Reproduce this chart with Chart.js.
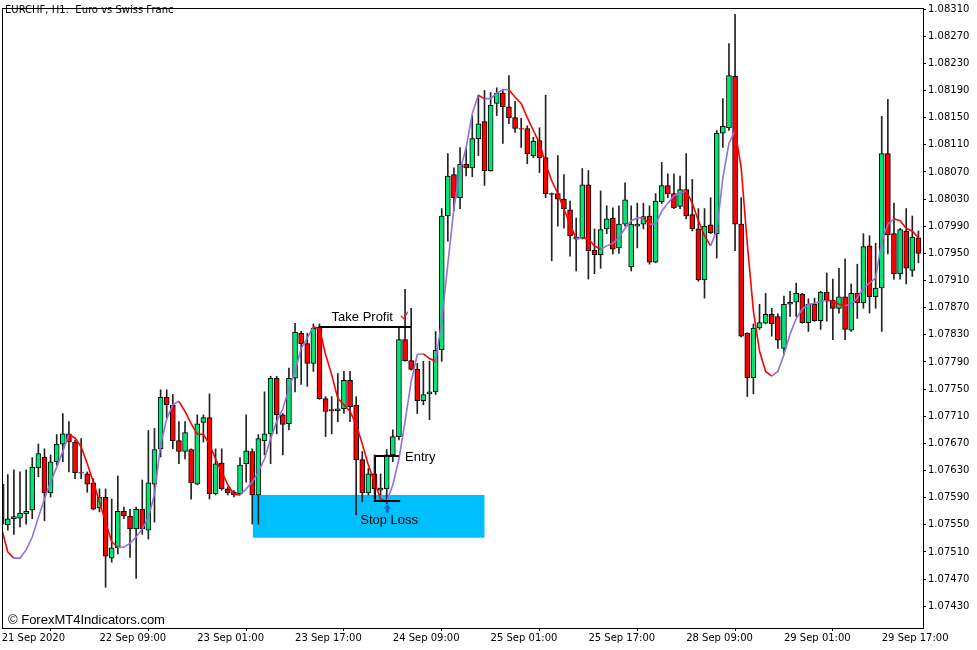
<!DOCTYPE html>
<html><head><meta charset="utf-8">
<script src="https://cdn.jsdelivr.net/npm/chart.js@4.4.1/dist/chart.umd.min.js"></script>
<style>html,body{margin:0;padding:0;background:#fff;}#wrap{width:977px;height:650px;position:relative;}</style>
</head><body><div id="wrap"><canvas id="c" width="977" height="650"></canvas></div>
<script>
const opens=[1.07610,1.07550,1.07559,1.07560,1.07566,1.07572,1.07634,1.07650,1.07597,1.07643,1.07669,1.07684,1.07672,1.07627,1.07625,1.07612,1.07575,1.07591,1.07501,1.07516,1.07570,1.07563,1.07544,1.07573,1.07542,1.07610,1.07662,1.07738,1.07726,1.07674,1.07658,1.07661,1.07610,1.07701,1.07708,1.07596,1.07641,1.07603,1.07598,1.07596,1.07640,1.07658,1.07594,1.07674,1.07684,1.07766,1.07712,1.07699,1.07766,1.07832,1.07817,1.07788,1.07841,1.07736,1.07720,1.07718,1.07721,1.07763,1.07726,1.07646,1.07597,1.07625,1.07601,1.07603,1.07653,1.07680,1.07823,1.07792,1.07779,1.07733,1.07743,1.07746,1.07808,1.08005,1.08066,1.08032,1.08081,1.08076,1.08119,1.08144,1.08072,1.08171,1.08186,1.08166,1.08150,1.08134,1.08134,1.08094,1.08116,1.08091,1.08038,1.08038,1.08030,1.08014,1.07971,1.07973,1.08051,1.07955,1.07948,1.07986,1.08002,1.07958,1.07993,1.07930,1.07990,1.07993,1.08005,1.07937,1.08026,1.08050,1.08038,1.08019,1.08044,1.08007,1.07986,1.07911,1.07992,1.07979,1.08127,1.08135,1.08211,1.07993,1.07832,1.07767,1.07840,1.07847,1.07860,1.07857,1.07810,1.07875,1.07878,1.07890,1.07848,1.07875,1.07851,1.07893,1.07881,1.07869,1.07886,1.07837,1.07891,1.07877,1.07961,1.07886,1.07899,1.08097,1.07979,1.07920,1.07983,1.07925,1.07973];
const highs=[1.07616,1.07624,1.07631,1.07628,1.07631,1.07649,1.07669,1.07662,1.07653,1.07683,1.07714,1.07702,1.07675,1.07677,1.07628,1.07618,1.07603,1.07603,1.07588,1.07622,1.07576,1.07573,1.07576,1.07616,1.07689,1.07692,1.07749,1.07749,1.07742,1.07702,1.07702,1.07662,1.07712,1.07712,1.07743,1.07662,1.07662,1.07606,1.07601,1.07649,1.07712,1.07662,1.07683,1.07746,1.07769,1.07769,1.07714,1.07781,1.07847,1.07835,1.07832,1.07846,1.07846,1.07739,1.07739,1.07773,1.07776,1.07776,1.07739,1.07658,1.07633,1.07653,1.07625,1.07661,1.07690,1.07840,1.07897,1.07869,1.07788,1.07791,1.07791,1.07835,1.08016,1.08097,1.08076,1.08106,1.08106,1.08153,1.08183,1.08190,1.08187,1.08194,1.08191,1.08212,1.08174,1.08149,1.08138,1.08121,1.08135,1.08183,1.08039,1.08094,1.08066,1.08027,1.08002,1.08075,1.08072,1.07986,1.08042,1.08020,1.08017,1.08020,1.08054,1.08020,1.08024,1.08024,1.08020,1.08038,1.08084,1.08067,1.08067,1.08064,1.08097,1.08059,1.08016,1.08016,1.08032,1.08131,1.08178,1.08259,1.08302,1.08032,1.07833,1.07846,1.07875,1.07891,1.07869,1.07861,1.07887,1.07894,1.07906,1.07891,1.07883,1.07884,1.07894,1.07921,1.07912,1.07928,1.07942,1.07905,1.07934,1.07979,1.07976,1.07965,1.08152,1.08177,1.08024,1.07987,1.08016,1.08005,1.07983];
const lows=[1.07539,1.07542,1.07536,1.07547,1.07551,1.07559,1.07621,1.07556,1.07591,1.07638,1.07643,1.07628,1.07618,1.07618,1.07598,1.07572,1.07569,1.07458,1.07495,1.07507,1.07559,1.07502,1.07471,1.07536,1.07529,1.07554,1.07650,1.07707,1.07662,1.07640,1.07647,1.07588,1.07609,1.07672,1.07588,1.07594,1.07601,1.07594,1.07591,1.07594,1.07613,1.07551,1.07551,1.07653,1.07640,1.07684,1.07653,1.07690,1.07746,1.07757,1.07754,1.07776,1.07735,1.07680,1.07684,1.07702,1.07714,1.07702,1.07565,1.07584,1.07594,1.07588,1.07594,1.07581,1.07643,1.07675,1.07791,1.07778,1.07714,1.07727,1.07705,1.07742,1.07791,1.07968,1.08013,1.08016,1.08064,1.08063,1.08094,1.08050,1.08071,1.08153,1.08112,1.08141,1.08128,1.08106,1.08082,1.08091,1.08069,1.08032,1.07939,1.07990,1.07987,1.07946,1.07924,1.07971,1.07912,1.07920,1.07928,1.07979,1.07949,1.07950,1.07990,1.07924,1.07958,1.07986,1.07934,1.07936,1.08023,1.08032,1.08016,1.08016,1.08001,1.07983,1.07909,1.07884,1.07979,1.07943,1.08106,1.08131,1.07954,1.07827,1.07739,1.07743,1.07838,1.07846,1.07828,1.07810,1.07801,1.07857,1.07857,1.07847,1.07835,1.07850,1.07838,1.07850,1.07823,1.07862,1.07823,1.07835,1.07854,1.07869,1.07862,1.07869,1.07835,1.07949,1.07912,1.07912,1.07905,1.07916,1.07936];
const closes=[1.07551,1.07559,1.07562,1.07567,1.07570,1.07635,1.07655,1.07597,1.07643,1.07669,1.07684,1.07672,1.07627,1.07626,1.07610,1.07573,1.07591,1.07504,1.07516,1.07570,1.07563,1.07544,1.07573,1.07544,1.07612,1.07661,1.07738,1.07727,1.07674,1.07658,1.07686,1.07612,1.07699,1.07708,1.07596,1.07640,1.07603,1.07597,1.07594,1.07638,1.07659,1.07594,1.07677,1.07684,1.07766,1.07712,1.07698,1.07766,1.07834,1.07817,1.07788,1.07840,1.07736,1.07717,1.07718,1.07721,1.07763,1.07724,1.07646,1.07597,1.07625,1.07603,1.07604,1.07653,1.07680,1.07823,1.07792,1.07779,1.07733,1.07742,1.07746,1.07807,1.08005,1.08064,1.08032,1.08081,1.08076,1.08119,1.08141,1.08072,1.08168,1.08186,1.08166,1.08150,1.08134,1.08133,1.08097,1.08115,1.08091,1.08038,1.08037,1.08030,1.08016,1.07976,1.07974,1.08051,1.07954,1.07948,1.07985,1.08001,1.07956,1.07993,1.08029,1.07993,1.07993,1.08004,1.07937,1.08027,1.08050,1.08038,1.08017,1.08044,1.08005,1.07986,1.07911,1.07990,1.07980,1.08127,1.08137,1.08212,1.07993,1.07828,1.07767,1.07840,1.07848,1.07860,1.07846,1.07822,1.07875,1.07878,1.07891,1.07848,1.07875,1.07851,1.07893,1.07881,1.07869,1.07886,1.07838,1.07891,1.07877,1.07960,1.07886,1.07899,1.08097,1.07977,1.07920,1.07985,1.07928,1.07974,1.07950];
const maLine=[1.07544,1.07510,1.07501,1.07501,1.07513,1.07532,1.07561,1.07588,1.07613,1.07635,1.07658,1.07683,1.07678,1.07665,1.07640,1.07613,1.07584,1.07554,1.07525,1.07517,1.07517,1.07523,1.07532,1.07544,1.07561,1.07595,1.07668,1.07706,1.07727,1.07732,1.07717,1.07699,1.07684,1.07683,1.07669,1.07647,1.07628,1.07609,1.07595,1.07594,1.07603,1.07613,1.07628,1.07647,1.07677,1.07702,1.07721,1.07751,1.07776,1.07810,1.07825,1.07842,1.07839,1.07801,1.07771,1.07736,1.07727,1.07717,1.07698,1.07669,1.07638,1.07613,1.07588,1.07584,1.07609,1.07647,1.07702,1.07761,1.07801,1.07802,1.07795,1.07791,1.07850,1.07934,1.08017,1.08072,1.08106,1.08156,1.08183,1.08178,1.08178,1.08186,1.08191,1.08191,1.08180,1.08171,1.08150,1.08131,1.08112,1.08082,1.08057,1.08038,1.08015,1.07993,1.07971,1.07973,1.07971,1.07961,1.07956,1.07961,1.07965,1.07973,1.07987,1.07998,1.08002,1.08002,1.07993,1.07993,1.08012,1.08024,1.08035,1.08039,1.08042,1.08024,1.07998,1.07976,1.07961,1.07983,1.08061,1.08112,1.08131,1.08076,1.07964,1.07865,1.07806,1.07776,1.07769,1.07776,1.07801,1.07831,1.07854,1.07868,1.07875,1.07876,1.07879,1.07881,1.07879,1.07875,1.07873,1.07875,1.07884,1.07899,1.07906,1.07914,1.07968,1.07993,1.08001,1.07998,1.07987,1.07983,1.07973];
const yTicks=[1.07430,1.07470,1.07510,1.07550,1.07590,1.07630,1.07670,1.07710,1.07750,1.07790,1.07830,1.07870,1.07910,1.07950,1.07990,1.08030,1.08070,1.08110,1.08150,1.08190,1.08230,1.08270,1.08310];
const xTickIdx=[0,16,32,48,64,80,96,112,128,144];
const xTickLabels=['21 Sep 2020','22 Sep 09:00','23 Sep 01:00','23 Sep 17:00','24 Sep 09:00','25 Sep 01:00','25 Sep 17:00','28 Sep 09:00','29 Sep 01:00','29 Sep 17:00'];

const GREEN='#00E676', RED='#FF0000';
const bodies=opens.map((o,i)=>({x:i,y:[o,closes[i]]}));
const wicks=lows.map((l,i)=>({x:i,y:[l,highs[i]]}));
const bodyColors=opens.map((o,i)=>closes[i]>=o?GREEN:RED);
const maData=maLine.map((v,i)=>({x:i,y:v}));

const anno={
  id:'anno',
  beforeDatasetsDraw(ch){
    const {ctx,scales:{x,y}}=ch;
    ctx.save();
    ctx.fillStyle='#00BFFF';
    const x0=x.getPixelForValue(41.1),x1=x.getPixelForValue(79.0);
    const y0=y.getPixelForValue(1.07594),y1=y.getPixelForValue(1.07531);
    ctx.fillRect(x0,y0,x1-x0,y1-y0);
    ctx.restore();
  },
  afterDatasetsDraw(ch){
    const {ctx,scales:{x,y},chartArea:a}=ch;
    ctx.save();
    ctx.strokeStyle='#000';
    const hl=(xa,xb,v,w)=>{ctx.lineWidth=w;ctx.beginPath();const py=Math.round(y.getPixelForValue(v));ctx.moveTo(x.getPixelForValue(xa),py);ctx.lineTo(x.getPixelForValue(xb),py);ctx.stroke();};
    hl(51.8,67.0,1.07841,2);
    hl(61.1,65.0,1.07652,2);
    hl(60.9,65.2,1.07585,2);
    ctx.lineWidth=1;ctx.beginPath();
    const vx=Math.round(x.getPixelForValue(61.1))+0.5;
    ctx.moveTo(vx,y.getPixelForValue(1.07652));ctx.lineTo(vx,y.getPixelForValue(1.07585));ctx.stroke();
    ctx.fillStyle='#000';ctx.font='13px "Liberation Sans", Arial, sans-serif';ctx.textBaseline='middle';
    ctx.textAlign='center';
    ctx.fillText('Take Profit',x.getPixelForValue(59.0),y.getPixelForValue(1.07855));
    ctx.fillText('Stop Loss',x.getPixelForValue(63.4),y.getPixelForValue(1.07556));
    ctx.textAlign='left';
    ctx.fillText('Entry',x.getPixelForValue(66.0),y.getPixelForValue(1.07649));
    const cx=x.getPixelForValue(65.8),cy=y.getPixelForValue(1.07858);
    ctx.strokeStyle='#FF2020';ctx.lineWidth=1.3;ctx.beginPath();ctx.moveTo(cx-3,cy);ctx.lineTo(cx,cy+3);ctx.lineTo(cx+4,cy-4);ctx.stroke();
    const ax=x.getPixelForValue(63.1),ay=y.getPixelForValue(1.07574);
    ctx.fillStyle='#1E64C8';
    ctx.beginPath();ctx.moveTo(ax,ay-4);ctx.lineTo(ax+4,ay);ctx.lineTo(ax+1.5,ay);ctx.lineTo(ax+1.5,ay+4);ctx.lineTo(ax-1.5,ay+4);ctx.lineTo(ax-1.5,ay);ctx.lineTo(ax-4,ay);ctx.closePath();ctx.fill();
    ctx.strokeStyle='#000';ctx.lineWidth=1;
    ctx.strokeRect(a.left+0.5,a.top+0.5,a.right-a.left,a.bottom-a.top);
    ctx.fillStyle='#000';ctx.textAlign='left';ctx.textBaseline='alphabetic';
    ctx.font='10px "DejaVu Sans", sans-serif';
    ctx.fillText('EURCHF, H1:  Euro vs Swiss Franc',5,13);
    ctx.font='13px "Liberation Sans", Arial, sans-serif';
    ctx.fillText('\u00A9 ForexMT4Indicators.com',8,624);
    ctx.restore();
  }
};

new Chart(document.getElementById('c'),{
  data:{datasets:[
    {type:'line',data:maData,borderWidth:1.6,pointRadius:0,tension:0,order:0,
     segment:{borderColor:c=>c.p1.parsed.y<c.p0.parsed.y?RED:'#9370DB'}},
    {type:'bar',data:bodies,backgroundColor:bodyColors,borderColor:'#000',borderWidth:1,borderSkipped:false,barThickness:5,grouped:false,order:1},
    {type:'bar',data:wicks,backgroundColor:'#222',borderWidth:0,barThickness:1,grouped:false,order:2}
  ]},
  options:{
    responsive:false,animation:false,
    layout:{padding:{left:2,top:0,right:0,bottom:0}},
    plugins:{legend:{display:false},tooltip:{enabled:false}},
    scales:{
      x:{type:'linear',min:0.05,max:150.75,offset:false,
        afterBuildTicks:s=>{s.ticks=xTickIdx.map(v=>({value:v}));},
        afterFit:s=>{s.height=22;},
        ticks:{autoSkip:false,maxRotation:0,align:'start',padding:1,color:'#000',font:{family:'"DejaVu Sans", sans-serif',size:10},
          callback:v=>xTickLabels[xTickIdx.indexOf(v)]},
        grid:{drawOnChartArea:false,drawTicks:true,tickLength:3,color:'#000'},border:{display:true,color:'#000'}},
      y:{position:'right',min:1.07398,max:1.083115,
        afterBuildTicks:s=>{s.ticks=yTicks.map(v=>({value:v}));},
        afterFit:s=>{s.width=54;},
        ticks:{autoSkip:false,padding:2,color:'#000',font:{family:'"DejaVu Sans", sans-serif',size:10},callback:v=>v.toFixed(5)},
        grid:{drawOnChartArea:false,drawTicks:true,tickLength:3,color:'#000'},border:{display:true,color:'#000'}}
    }
  },
  plugins:[anno]
});
</script></body></html>
